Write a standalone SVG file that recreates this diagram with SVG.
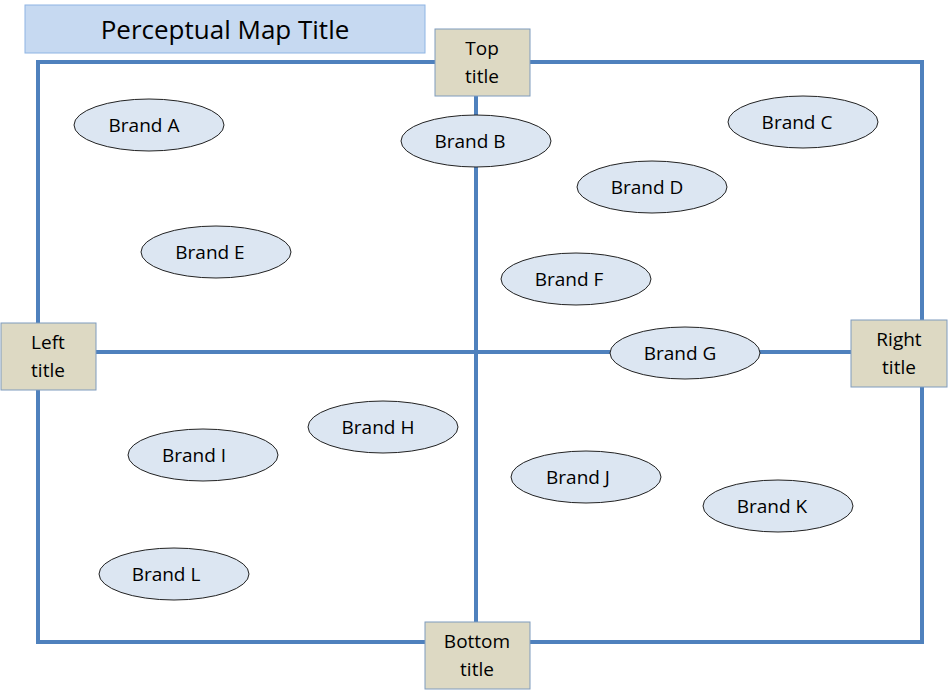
<svg xmlns="http://www.w3.org/2000/svg" width="948" height="697" viewBox="0 0 948 697">
<style>
.ax{stroke:#4f81bd;stroke-width:4;fill:none}
.lbl{fill:#ddd9c3;stroke:#7f9bbd;stroke-width:1}
.br ellipse{fill:#dce6f2;stroke:#222;stroke-width:1}
text{font-family:"Open Sans","Liberation Sans",sans-serif;font-size:19px;fill:#000;text-anchor:middle}
</style>
<rect width="948" height="697" fill="#fff"/>
<g id="connectors">
<rect class="ax" x="38" y="62" width="884" height="580"/>
<line class="ax" x1="476" y1="62" x2="476" y2="642"/>
<line class="ax" x1="38" y1="352" x2="922" y2="352"/>
</g>
<g id="title"><rect x="25" y="5" width="400" height="48" fill="#c6d9f1" stroke="#8eb4e3"/><text x="225" y="39" style="font-size:26px">Perceptual Map Title</text></g>
<g id="top"><rect class="lbl" x="435" y="29" width="95" height="67"/><text x="482" y="55">Top</text><text x="482" y="83">title</text></g>
<g id="left"><rect class="lbl" x="1" y="323" width="95" height="67"/><text x="48" y="349">Left</text><text x="48" y="377">title</text></g>
<g id="right"><rect class="lbl" x="851" y="320" width="96" height="67"/><text x="899" y="346">Right</text><text x="899" y="374">title</text></g>
<g id="bottom"><rect class="lbl" x="425" y="622" width="105" height="67"/><text x="477" y="648">Bottom</text><text x="477" y="676">title</text></g>
<g class="br">
<g id="A"><ellipse cx="149" cy="125" rx="75" ry="26"/><text x="144" y="132">Brand A</text></g>
<g id="B"><ellipse cx="476" cy="141" rx="75" ry="26"/><text x="470" y="148">Brand B</text></g>
<g id="C"><ellipse cx="803" cy="122" rx="75" ry="26"/><text x="797" y="129">Brand C</text></g>
<g id="D"><ellipse cx="652" cy="187" rx="75" ry="26"/><text x="647" y="194">Brand D</text></g>
<g id="E"><ellipse cx="216" cy="252" rx="75" ry="26"/><text x="210" y="259">Brand E</text></g>
<g id="F"><ellipse cx="576" cy="279" rx="75" ry="26"/><text x="569" y="286">Brand F</text></g>
<g id="G"><ellipse cx="685" cy="353" rx="75" ry="26"/><text x="680" y="360">Brand G</text></g>
<g id="H"><ellipse cx="383" cy="427" rx="75" ry="26"/><text x="378" y="434">Brand H</text></g>
<g id="I"><ellipse cx="203" cy="455" rx="75" ry="26"/><text x="194" y="462">Brand I</text></g>
<g id="J"><ellipse cx="586" cy="477" rx="75" ry="26"/><text x="578" y="484">Brand J</text></g>
<g id="K"><ellipse cx="778" cy="506" rx="75" ry="26"/><text x="772" y="513">Brand K</text></g>
<g id="L"><ellipse cx="174" cy="574" rx="75" ry="26"/><text x="166" y="581">Brand L</text></g>
</g>
</svg>
